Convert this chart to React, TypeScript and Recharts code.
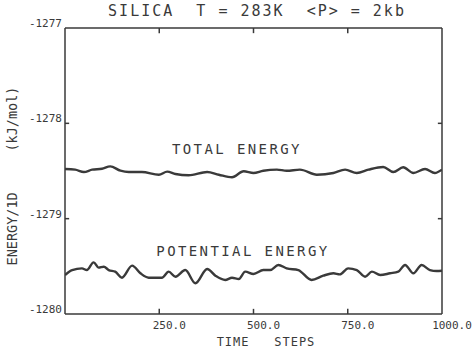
import { LineChart, Line, XAxis, YAxis, ReferenceDot, ReferenceLine } from "recharts";

// Energía total (kJ/mol) vs pasos de tiempo
const TOTAL_T = [0, 27, 50, 72, 98, 120, 147, 169, 204, 249, 271, 293, 328, 377, 408, 443, 474, 500, 526, 562, 588, 623, 668, 712, 743, 774, 805, 844, 871, 897, 924, 955, 981, 1000];
const TOTAL_E = [-1278.479, -1278.486, -1278.511, -1278.486, -1278.476, -1278.451, -1278.497, -1278.511, -1278.511, -1278.539, -1278.507, -1278.532, -1278.545, -1278.511, -1278.539, -1278.566, -1278.503, -1278.521, -1278.497, -1278.486, -1278.497, -1278.486, -1278.539, -1278.521, -1278.486, -1278.521, -1278.486, -1278.458, -1278.511, -1278.461, -1278.521, -1278.479, -1278.521, -1278.486];

// Energía potencial
const POT_T = [0, 19, 45, 58, 76, 89, 103, 116, 133, 151, 178, 200, 222, 257, 275, 293, 319, 346, 377, 399, 425, 443, 461, 478, 500, 526, 544, 566, 588, 619, 654, 685, 712, 729, 751, 774, 796, 814, 836, 862, 884, 902, 924, 946, 968, 986, 1000];
const POT_E = [-1279.591, -1279.539, -1279.521, -1279.539, -1279.458, -1279.514, -1279.504, -1279.539, -1279.556, -1279.619, -1279.493, -1279.573, -1279.619, -1279.619, -1279.556, -1279.609, -1279.539, -1279.678, -1279.528, -1279.598, -1279.643, -1279.619, -1279.633, -1279.556, -1279.58, -1279.539, -1279.539, -1279.486, -1279.521, -1279.539, -1279.643, -1279.598, -1279.573, -1279.584, -1279.521, -1279.539, -1279.609, -1279.556, -1279.591, -1279.573, -1279.556, -1279.486, -1279.573, -1279.486, -1279.539, -1279.549, -1279.546];

const X_TICKS = [250, 500, 750, 1000];
const X_INNER_TICKS = [250, 500, 750];
const Y_TICKS = [-1280, -1279, -1278, -1277];
const Y_INNER_TICKS = [-1279, -1278];

const X_MIN = 0;
const X_MAX = 1000;
const Y_MIN = -1280;
const Y_MAX = -1277;

const INK = "#3a3a3a";
const FONT = "'DejaVu Sans Mono', monospace";

const totalData = TOTAL_T.map((t, i) => ({ t, e: TOTAL_E[i] }));
const potData = POT_T.map((t, i) => ({ t, e: POT_E[i] }));

// largo de las marcas internas, en unidades de datos (~5px)
const X_MARK = (X_MAX - X_MIN) * 0.011;
const Y_MARK = (Y_MAX - Y_MIN) * 0.018;

// eslint-disable-next-line @typescript-eslint/no-explicit-any
const BottomTick = (props: any) => {
  const { x, y, payload } = props;
  return (
    <text x={x + 10} y={y + 15} textAnchor="middle" fontSize={11} fill={INK} fontFamily={FONT}>
      {payload.value.toFixed(1)}
    </text>
  );
};

// eslint-disable-next-line @typescript-eslint/no-explicit-any
const LeftTick = (props: any) => {
  const { x, y, payload } = props;
  return (
    <text x={x - 3} y={y - 1} textAnchor="end" fontSize={11} fill={INK} fontFamily={FONT}>
      {String(payload.value)}
    </text>
  );
};

// eslint-disable-next-line @typescript-eslint/no-explicit-any
const curveLabel = (text: string) => (props: any) => {
  const { viewBox } = props;
  return (
    <text
      x={viewBox.x}
      y={viewBox.y}
      textAnchor="middle"
      dominantBaseline="central"
      fontSize={14}
      fill={INK}
      fontFamily={FONT}
      letterSpacing={2.4}
    >
      {text}
    </text>
  );
};

export default function App() {
  return (
    <div style={{ position: "relative", width: 474, height: 364, background: "#fff" }}>
      <style>{`body{margin:0;background:#fff}`}</style>
      <div
        style={{
          position: "absolute",
          top: 2,
          left: 0,
          width: 514,
          textAlign: "center",
          fontFamily: FONT,
          fontSize: 15,
          letterSpacing: 2,
          color: INK,
          whiteSpace: "pre",
        }}
      >
        {"SILICA  T = 283K  <P> = 2kb"}
      </div>
      <div
        style={{
          position: "absolute",
          left: 12,
          top: 176,
          transform: "translate(-50%, -50%) rotate(-90deg)",
          fontFamily: FONT,
          fontSize: 13.5,
          color: INK,
          whiteSpace: "pre",
        }}
      >
        {"ENERGY/1D     (kJ/mol)"}
      </div>
      <div
        style={{
          position: "absolute",
          top: 335,
          left: 0,
          width: 532,
          textAlign: "center",
          fontFamily: FONT,
          fontSize: 12,
          letterSpacing: 1,
          color: INK,
          whiteSpace: "pre",
        }}
      >
        {"TIME   STEPS"}
      </div>
      <LineChart width={474} height={364} margin={{ top: 28, right: 32, left: 0, bottom: 0 }}>
        <XAxis
          dataKey="t"
          type="number"
          domain={[X_MIN, X_MAX]}
          ticks={X_TICKS}
          height={50}
          tickSize={0}
          tickMargin={0}
          tick={<BottomTick />}
          axisLine={{ stroke: INK, strokeWidth: 1.5 }}
          tickLine={false}
          allowDataOverflow
        />
        <YAxis
          type="number"
          domain={[Y_MIN, Y_MAX]}
          ticks={Y_TICKS}
          width={65}
          tickSize={0}
          tickMargin={0}
          tick={<LeftTick />}
          axisLine={{ stroke: INK, strokeWidth: 1.5 }}
          tickLine={false}
          allowDataOverflow
        />
        {/* marco superior y derecho */}
        <ReferenceLine y={Y_MAX} stroke={INK} strokeWidth={1.5} ifOverflow="visible" />
        <ReferenceLine x={X_MAX} stroke={INK} strokeWidth={1.5} ifOverflow="visible" />
        {/* marcas internas */}
        {X_INNER_TICKS.map((v) => (
          <ReferenceLine
            key={`b${v}`}
            segment={[{ x: v, y: Y_MIN }, { x: v, y: Y_MIN + Y_MARK }]}
            stroke={INK}
            strokeWidth={1.5}
            ifOverflow="visible"
          />
        ))}
        {X_INNER_TICKS.map((v) => (
          <ReferenceLine
            key={`t${v}`}
            segment={[{ x: v, y: Y_MAX }, { x: v, y: Y_MAX - Y_MARK }]}
            stroke={INK}
            strokeWidth={1.5}
            ifOverflow="visible"
          />
        ))}
        {Y_INNER_TICKS.map((v) => (
          <ReferenceLine
            key={`l${v}`}
            segment={[{ x: X_MIN, y: v }, { x: X_MIN + X_MARK, y: v }]}
            stroke={INK}
            strokeWidth={1.5}
            ifOverflow="visible"
          />
        ))}
        {Y_INNER_TICKS.map((v) => (
          <ReferenceLine
            key={`r${v}`}
            segment={[{ x: X_MAX, y: v }, { x: X_MAX - X_MARK, y: v }]}
            stroke={INK}
            strokeWidth={1.5}
            ifOverflow="visible"
          />
        ))}
        <Line
          data={totalData}
          dataKey="e"
          type="monotone"
          stroke={INK}
          strokeWidth={2.4}
          dot={false}
          isAnimationActive={false}
        />
        <Line
          data={potData}
          dataKey="e"
          type="monotone"
          stroke={INK}
          strokeWidth={2.4}
          dot={false}
          isAnimationActive={false}
        />
        <ReferenceDot x={456} y={-1278.27} r={0} label={curveLabel("TOTAL ENERGY")} />
        <ReferenceDot x={472} y={-1279.34} r={0} label={curveLabel("POTENTIAL ENERGY")} />
      </LineChart>
    </div>
  );
}
